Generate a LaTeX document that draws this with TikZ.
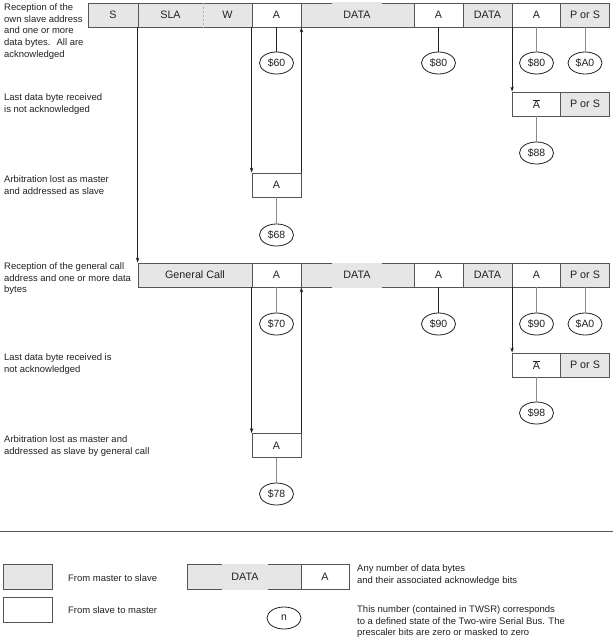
\documentclass[tikz,border=0pt]{standalone}
\usepackage{fontspec}
\setmainfont{Liberation Sans}
\usetikzlibrary{arrows.meta,shapes.geometric}
\definecolor{boxgray}{HTML}{E6E6E6}
\definecolor{edge}{HTML}{555555}
\definecolor{ink}{HTML}{222222}
\definecolor{lite}{HTML}{8C8C8C}
\newcommand{\nA}{$\overline{\hbox{A}}$}
\begin{document}
\begin{tikzpicture}[x=1bp,y=-1bp,
  box/.style={draw=edge, line width=0.8bp, minimum height=24bp, inner sep=0pt,
    font=\fontsize{10.8}{12}\selectfont, text=ink},
  mts/.style={box, fill=boxgray},
  stm/.style={box, fill=white},
  patch/.style={fill=boxgray, minimum height=25bp, inner sep=0pt,
    font=\fontsize{10.8}{12}\selectfont, text=ink},
  lbl/.style={inner sep=0pt, font=\fontsize{10.8}{12}\selectfont, text=ink},
  code/.style={draw=ink, line width=0.8bp, ellipse, minimum width=34bp, minimum height=22bp,
    inner sep=0pt, font=\fontsize{10.5}{12}\selectfont, text=ink, fill=white},
  note/.style={anchor=north west, align=left, inner sep=0pt,
    font=\fontsize{9.5}{11.7}\selectfont, text=ink},
  arr/.style={draw=ink, line width=0.8bp, -{Stealth[length=5bp,width=3.5bp]}},
  dark/.style={draw=ink, line width=0.8bp},
  light/.style={draw=lite, line width=0.8bp},
]
\useasboundingbox (0,0) rectangle (613,640);

% ---------- row 1 ----------
\node[mts, minimum width=50bp] (s1) at (113,15) {S};
\node[mts, minimum width=114bp] (slaw) at (195,15) {};
\node[lbl] (sla) at (170.5,15) {SLA};
\node[lbl] (w) at (227.5,15) {W};
\draw[gray!60, line width=0.8bp, dash pattern=on 2bp off 2bp] (slaw.north -| 203,0) -- (slaw.south -| 203,0);
\node[stm, minimum width=49bp] (a1) at (276.5,15) {A};
\node[mts, minimum width=113bp] (d1) at (357.5,15) {};
\node[patch, minimum width=50bp] (d1t) at (357,15) {DATA};
\node[stm, minimum width=49bp] (a2) at (438.5,15) {A};
\node[mts, minimum width=49bp] (d2) at (487.5,15) {DATA};
\node[stm, minimum width=48bp] (a3) at (536.5,15) {A};
\node[mts, minimum width=49bp] (p1) at (585,15) {P or S};

\node[code] (e60) at (276.5,63) {\$60};
\node[code] (e80a) at (438.5,63) {\$80};
\node[code] (e80b) at (536.5,63) {\$80};
\node[code] (ea0) at (585,63) {\$A0};

\node[stm, minimum width=48bp] (nb1) at (536.5,104) {\nA};
\node[mts, minimum width=49bp] (pb1) at (585,104) {P or S};
\node[code] (e88) at (536.5,153) {\$88};

\node[stm, minimum width=49bp] (arb1) at (276.5,185) {A};
\node[code] (e68) at (276.5,235) {\$68};

% ---------- row 2 ----------
\node[mts, minimum width=114bp] (gc) at (195,275) {General Call};
\node[stm, minimum width=49bp] (a4) at (276.5,275) {A};
\node[mts, minimum width=113bp] (d3) at (357.5,275) {};
\node[patch, minimum width=50bp] (d3t) at (357,275) {DATA};
\node[stm, minimum width=49bp] (a5) at (438.5,275) {A};
\node[mts, minimum width=49bp] (d4) at (487.5,275) {DATA};
\node[stm, minimum width=48bp] (a6) at (536.5,275) {A};
\node[mts, minimum width=49bp] (p2) at (585,275) {P or S};

\node[code] (e70) at (276.5,324) {\$70};
\node[code] (e90a) at (438.5,324) {\$90};
\node[code] (e90b) at (536.5,324) {\$90};
\node[code] (ea0b) at (585,324) {\$A0};

\node[stm, minimum width=48bp] (nb2) at (536.5,365) {\nA};
\node[mts, minimum width=49bp] (pb2) at (585,365) {P or S};
\node[code] (e98) at (536.5,413) {\$98};

\node[stm, minimum width=49bp] (arb2) at (276.5,445.5) {A};
\node[code] (e78) at (276.5,494) {\$78};

% ---------- connectors ----------
\draw[arr] (slaw.south west) -- (gc.north west);
\draw[arr] (a1.south west) -- (arb1.north west);
\draw[arr] (arb1.north east) -- (a1.south east);
\draw[arr] (a3.south west) -- (nb1.north west);
\draw[dark] (a1.south) -- (e60.north);
\draw[dark] (a2.south) -- (e80a.north);
\draw[light] (a3.south) -- (e80b.north);
\draw[light] (p1.south) -- (ea0.north);
\draw[light] (nb1.south) -- (e88.north);
\draw[light] (arb1.south) -- (e68.north);

\draw[arr] (a4.south west) -- (arb2.north west);
\draw[arr] (arb2.north east) -- (a4.south east);
\draw[arr] (a6.south west) -- (nb2.north west);
\draw[light] (a4.south) -- (e70.north);
\draw[dark] (a5.south) -- (e90a.north);
\draw[light] (a6.south) -- (e90b.north);
\draw[light] (p2.south) -- (ea0b.north);
\draw[light] (nb2.south) -- (e98.north);
\draw[light] (arb2.south) -- (e78.north);

% ---------- left notes ----------
\node[note] (n1) at (4,3.5) {Reception of the\\own slave address\\and one or more\\data bytes.~ All are\\acknowledged};
\node[note] (n2) at (4,93.5) {Last data byte received\\is not acknowledged};
\node[note] (n3) at (4,175.5) {Arbitration lost as master\\and addressed as slave};
\node[note] (n4) at (4,262.5) {Reception of the general call\\address and one or more data\\bytes};
\node[note] (n5) at (4,353.5) {Last data byte received is\\not acknowledged};
\node[note] (n6) at (4,435.5) {Arbitration lost as master and\\addressed as slave by general call};

% ---------- separator ----------
\coordinate (sepL) at (0,531);
\coordinate (sepR) at (613,531);
\draw[draw=edge, line width=0.8bp] (sepL) -- (sepR);

% ---------- legend ----------
\node[mts, minimum width=49bp, minimum height=25bp] (lg1) at (27.5,576.5) {};
\node[stm, minimum width=49bp, minimum height=25bp] (lg2) at (27.5,609.5) {};
\node[note, anchor=west] (lt1) at (68,578) {From master to slave};
\node[note, anchor=west] (lt2) at (68,610) {From slave to master};
\node[mts, minimum width=114bp, minimum height=25bp] (lgd) at (244,576.5) {};
\node[patch, minimum width=46bp, minimum height=26bp] (lgdt) at (245,576.5) {DATA};
\node[stm, minimum width=48bp, minimum height=25bp] (lga) at (325,576.5) {A};
\node[code] (lgn) at (284,618) {n};
\node[note] (lt3) at (357,564.5) {Any number of data bytes\\and their associated acknowledge bits};
\node[note] (lt4) at (357,605.5) {This number (contained in TWSR) corresponds\\to a defined state of the Two-wire Serial Bus. The\\prescaler bits are zero or masked to zero};
\end{tikzpicture}
\end{document}
